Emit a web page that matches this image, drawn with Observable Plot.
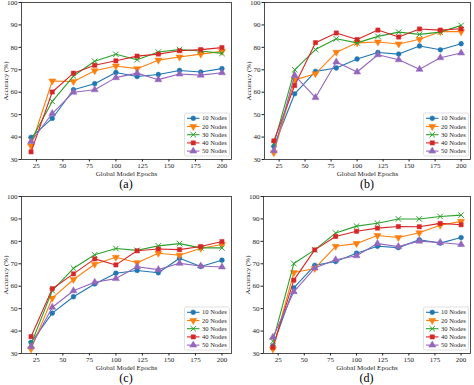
<!DOCTYPE html>
<html><head><meta charset="utf-8">
<script src="https://cdn.jsdelivr.net/npm/d3@7"></script>
<script src="https://cdn.jsdelivr.net/npm/@observablehq/plot@0.6"></script>
<style>
html,body{margin:0;padding:0;background:#fff;}
#wrap{position:relative;width:474px;height:385px;overflow:hidden;background:#fff;font-family:"Liberation Serif","Times New Roman",serif;}
.panel{position:absolute;}
.cap{position:absolute;font-size:12px;transform:translateX(-50%);line-height:1;}
</style></head>
<body><div id="wrap"></div>
<script>
const epochs = [20,40,60,80,100,120,140,160,180,200];
const seriesLabels = ["10 Nodes","20 Nodes","30 Nodes","40 Nodes","50 Nodes"];
const colors = ["#1f77b4","#ff7f0e","#2ca02c","#d62728","#9467bd"];
const xTicks = [25,50,75,100,125,150,175,200];
const yTicks = [30,40,50,60,70,80,90,100];
const captions = ["(a)","(b)","(c)","(d)"];

const panelA = [
  [39.9,48.3,61.1,63.8,68.8,67.0,67.9,69.7,69.0,70.5],
  [36.0,65.0,64.8,69.6,71.7,70.5,74.3,75.7,77.0,78.2],
  [38.6,55.9,67.2,73.8,76.9,74.5,77.9,79.0,78.4,77.3],
  [33.4,60.1,68.5,72.0,74.0,76.1,77.0,78.5,79.0,79.9],
  [38.0,50.5,60.0,61.1,66.5,68.5,65.6,68.1,67.6,68.7]
];
const panelB = [
  [35.8,59.3,69.3,70.8,74.8,77.7,77.0,80.6,78.9,81.6],
  [33.0,65.5,68.2,77.8,82.0,82.4,81.5,83.6,87.0,87.0],
  [37.0,70.0,79.0,83.8,82.0,84.9,86.8,85.8,86.8,89.8],
  [38.3,63.0,82.1,86.4,83.5,87.7,84.6,88.2,87.7,88.3],
  [33.9,67.5,57.6,73.5,69.0,76.7,74.5,70.2,75.4,77.5]
];
const panelC = [
  [34.9,48.0,55.3,61.0,65.8,67.0,66.0,72.5,68.8,71.6],
  [32.0,54.7,63.0,69.8,72.9,70.5,74.7,73.8,76.9,78.6],
  [34.2,58.0,68.0,74.0,76.8,76.0,78.0,79.0,77.1,77.1],
  [37.5,58.9,65.5,72.2,69.5,75.8,76.6,76.3,77.7,79.9],
  [33.0,50.6,58.0,61.8,63.4,68.7,67.4,70.2,69.0,68.6]
];
const panelD = [
  [33.4,59.3,69.3,71.0,74.7,77.8,77.2,80.7,79.2,81.7],
  [32.0,66.1,67.9,77.8,79.0,82.6,81.7,83.8,87.2,88.9],
  [35.4,70.1,76.2,83.7,86.8,88.1,90.0,90.0,91.1,91.7],
  [32.7,62.7,76.2,82.2,84.5,85.9,86.6,86.5,88.0,87.4],
  [37.2,57.5,68.1,71.8,73.6,79.0,77.7,80.1,79.5,78.6]
];

const triDown = {draw(ctx, size){ const y = -Math.sqrt(size/(Math.sqrt(3)*3)); ctx.moveTo(0,-y*2); ctx.lineTo(-Math.sqrt(3)*y, y); ctx.lineTo(Math.sqrt(3)*y, y); ctx.closePath(); }};
const symbols = [d3.symbolCircle, triDown, d3.symbolTimes, d3.symbolSquare, d3.symbolTriangle];
const radii = [2.4, 2.6, 2.6, 2.4, 2.6];

const layouts = [
  {data: panelA, left:0,   top:0,   h:178, ml:21, mr:6, mt:2, mb:19, capTop:178, lo:16},
  {data: panelB, left:237, top:0,   h:178, ml:27, mr:4, mt:2, mb:19, capTop:178, lo:16},
  {data: panelC, left:0,   top:190, h:182, ml:21, mr:6, mt:6, mb:19, capTop:372, lo:16.5},
  {data: panelD, left:237, top:190, h:182, ml:26, mr:4, mt:6, mb:19, capTop:372, lo:16.5}
];

const wrap = document.getElementById("wrap");
layouts.forEach((L, pi) => {
  const marks = [];
  L.data.forEach((vals, si) => {
    const rows = epochs.map((e, i) => ({epoch: e, acc: vals[i]}));
    marks.push(Plot.line(rows, {x: "epoch", y: "acc", stroke: colors[si], strokeWidth: 1.1}));
    marks.push(Plot.dot(rows, {x: "epoch", y: "acc", symbol: symbols[si], r: radii[si], fill: colors[si], stroke: colors[si], strokeWidth: si === 2 ? 1 : 0.5}));
  });
  const chart = Plot.plot({
    width: 237, height: L.h,
    marginLeft: L.ml, marginRight: L.mr, marginTop: L.mt, marginBottom: L.mb,
    x: {domain: [11, 209]},
    y: {domain: [30, 100]},
    style: {fontFamily: "'Liberation Serif','Times New Roman',serif", fontSize: "6.5px", background: "transparent", color: "#222"},
    marks: [
      Plot.axisX({ticks: xTicks, tickSize: 2.5, tickPadding: 1.5, label: "Global Model Epochs", labelAnchor: "center", labelOffset: L.lo, labelArrow: "none", fontSize: 7}),
      Plot.axisY({ticks: yTicks, tickSize: 2.5, tickPadding: 1.5, label: "Accuracy (%)", labelAnchor: "center", labelOffset: 18.5, labelArrow: "none", fontSize: 7}),
      ...marks,
      Plot.frame({stroke: "#222", strokeWidth: 0.8})
    ]
  });
  const div = document.createElement("div");
  div.className = "panel";
  div.style.left = L.left + "px";
  div.style.top = L.top + "px";
  div.appendChild(chart);
  wrap.appendChild(div);

  // legend inside plot area, lower right
  const svg = d3.select(chart);
  const plotRight = 237 - L.mr, plotBottom = L.h - L.mb;
  const bw = 45, bh = 43;
  const bx = plotRight - 1.5 - bw, by = plotBottom - 3 - bh;
  const g = svg.append("g").attr("transform", `translate(${bx},${by})`).attr("text-anchor", "start");
  g.append("rect").attr("width", bw).attr("height", bh).attr("rx", 1.5)
    .attr("fill", "white").attr("fill-opacity", 0.85).attr("stroke", "#ccc").attr("stroke-width", 0.6);
  seriesLabels.forEach((lab, si) => {
    const yy = 5.3 + si * 8.2;
    g.append("line").attr("x1", 2.5).attr("x2", 15).attr("y1", yy).attr("y2", yy)
      .attr("stroke", colors[si]).attr("stroke-width", 1.1);
    g.append("path").attr("d", d3.symbol(symbols[si], Math.PI * radii[si] * radii[si])())
      .attr("transform", `translate(8.75,${yy})`).attr("fill", colors[si]).attr("stroke", colors[si])
      .attr("stroke-width", si === 2 ? 1 : 0.5);
    g.append("text").attr("x", 17.5).attr("y", yy).attr("dy", "0.32em")
      .attr("text-anchor", "start").attr("font-size", 6.5).attr("fill", "#222").text(lab);
  });

  const cap = document.createElement("div");
  cap.className = "cap";
  cap.textContent = captions[pi];
  cap.style.left = (L.left + L.ml + (237 - L.ml - L.mr) / 2) + "px";
  cap.style.top = L.capTop + "px";
  wrap.appendChild(cap);
});
</script>
</body></html>
